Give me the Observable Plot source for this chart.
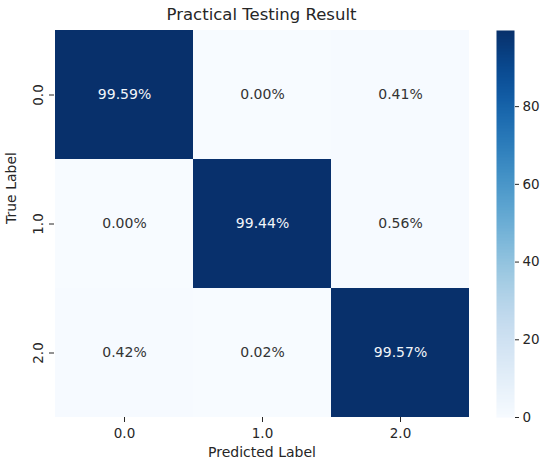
<!DOCTYPE html>
<html>
<head>
<meta charset="utf-8">
<script src="https://cdn.jsdelivr.net/npm/d3@7"></script>
<script src="https://cdn.jsdelivr.net/npm/@observablehq/plot@0.6"></script>
<style>
  html, body { margin: 0; padding: 0; background: #fff; }
  #wrap { position: relative; width: 550px; height: 469px; font-family: "DejaVu Sans", sans-serif; }
  #wrap svg { position: absolute; left: 0; top: 0; }
  #title { position: absolute; left: 54px; width: 415px; top: 5px; text-align: center; font-size: 16.5px; color: #262626; }
</style>
</head>
<body>
<div id="wrap"><div id="title">Practical Testing Result</div></div>
<script>
// ---- data ----
const labels = ["0.0", "1.0", "2.0"];
const row0 = [99.59, 0.00, 0.41];
const row1 = [0.00, 99.44, 0.56];
const row2 = [0.42, 0.02, 99.57];
const colorbarTicks = [0, 20, 40, 60, 80];
const xTitle = "Predicted Label";
const yTitle = "True Label";

const rows = [row0, row1, row2];
const cells = [];
rows.forEach((r, i) => r.forEach((v, j) => cells.push({ t: labels[i], p: labels[j], v })));
const vmin = d3.min(cells, d => d.v);
const vmax = d3.max(cells, d => d.v);
const colorOpts = { type: "linear", scheme: "blues", domain: [vmin, vmax] };
const font = { fontFamily: "DejaVu Sans, sans-serif", color: "#262626", background: "transparent", overflow: "visible" };

const main = Plot.plot({
  width: 550, height: 469,
  marginLeft: 54, marginRight: 81, marginTop: 30, marginBottom: 52,
  style: { ...font, fontSize: "13.5px" },
  x: { type: "band", domain: labels, padding: 0, axis: null },
  y: { type: "band", domain: labels, padding: 0, axis: null },
  color: colorOpts,
  marks: [
    Plot.cell(cells, { x: "p", y: "t", fill: "v", inset: 0 }),
    Plot.text(cells, {
      x: "p", y: "t", text: d => d.v.toFixed(2) + "%", fontSize: 14,
      fill: d => d.v > vmax / 2 ? "#f2f5f9" : "#333333"
    }),
    Plot.axisX({ anchor: "bottom", tickSize: 5, tickPadding: 6, fontSize: 13.5, label: null, stroke: "#262626", fill: "#262626" }),
    Plot.axisY({ anchor: "left", tickSize: 5, tickFormat: () => "", label: null, stroke: "#262626" }),
    Plot.text(labels, { y: d => d, frameAnchor: "left", dx: -12, rotate: -90, textAnchor: "middle", lineAnchor: "bottom", fontSize: 13.5, fill: "#262626" }),
    Plot.text([xTitle], { frameAnchor: "bottom", dy: 39, fontSize: 14, fill: "#262626", lineAnchor: "bottom" }),
    Plot.text([yTitle], { frameAnchor: "left", dx: -39, rotate: -90, fontSize: 14, fill: "#262626", lineAnchor: "bottom" })
  ]
});
document.getElementById("wrap").appendChild(main);

// colorbar
const bar = Plot.plot({
  width: 550, height: 469,
  marginLeft: 496, marginRight: 36, marginTop: 30, marginBottom: 52,
  style: { ...font, fontSize: "13.5px" },
  x: { domain: [0, 1], axis: null },
  y: { domain: [vmin, vmax], axis: null },
  color: colorOpts,
  marks: [
    Plot.raster({ x1: 0, x2: 1, y1: vmin, y2: vmax, width: 1, height: 256, fill: (x, y) => y }),
    Plot.axisY(colorbarTicks, { anchor: "right", tickSize: 4, tickPadding: 4, fontSize: 13.5, label: null, stroke: "#262626", fill: "#262626", tickFormat: d => String(d) })
  ]
});
document.getElementById("wrap").appendChild(bar);
</script>
</body>
</html>
